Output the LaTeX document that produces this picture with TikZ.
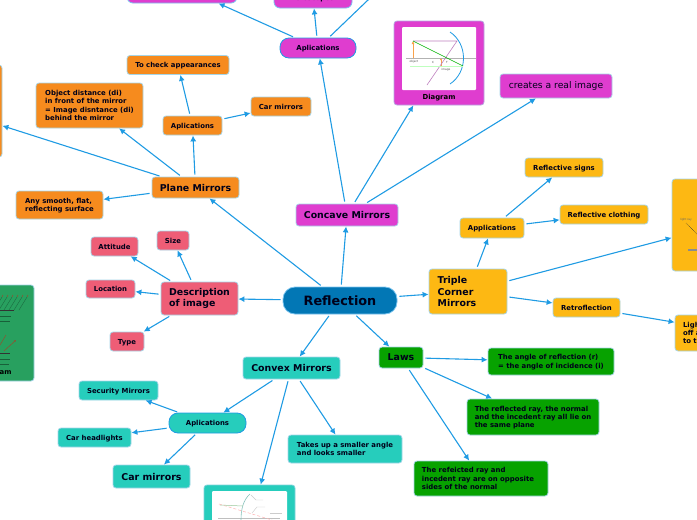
\documentclass[tikz,border=0pt]{standalone}
\usepackage{fontspec}
\setmainfont{DejaVu Sans}
\usetikzlibrary{arrows.meta}
\definecolor{linkblue}{HTML}{1F9BE3}
\definecolor{edgeblue}{HTML}{A5D5E8}
\definecolor{rootblue}{HTML}{0277B5}
\definecolor{concavecol}{HTML}{DF3DCF}
\definecolor{planecol}{HTML}{F68B1E}
\definecolor{descrcol}{HTML}{EE5D76}
\definecolor{triplecol}{HTML}{FDB813}
\definecolor{lawcol}{HTML}{07A200}
\definecolor{convexcol}{HTML}{26CDBC}
\definecolor{greendiag}{HTML}{28A05F}
\tikzset{
  box/.style={draw=edgeblue, line width=0.8pt, rounded corners=3pt, inner sep=0pt, align=left, text=black!90!blue},
  pill/.style={box, rounded corners=9pt, draw=linkblue},
  small/.style={font=\fontsize{6.9}{8.3}\selectfont\bfseries, text depth=0pt},
  big/.style={font=\fontsize{9.4}{11.4}\selectfont\bfseries},
  link/.style={draw=linkblue, line width=1.1pt, -{Latex[length=6pt,width=6pt]}, shorten <=2pt},
  sketch/.style={line width=0.5pt}
}
\begin{document}
\begin{tikzpicture}[x=1pt,y=-1pt]
  \useasboundingbox (0,0) rectangle (697,520);
  \clip (0,0) rectangle (697,520);

  % centre and main branches
  \node [box, rounded corners=12pt, draw=linkblue!60, fill=rootblue, minimum width=114pt, minimum height=27pt, text depth=0pt, font=\fontsize{12.8}{14}\selectfont\bfseries] (reflection) at (340,300.5) {Reflection};
  \node [box, big, fill=concavecol, minimum width=102pt, minimum height=22pt] (concave) at (347,215) {Concave Mirrors};
  \node [box, big, fill=planecol, minimum width=87pt, minimum height=21pt] (plane) at (195.5,187.5) {Plane Mirrors};
  \node [box, big, fill=descrcol, minimum width=77pt, minimum height=33pt] (descr) at (199.5,298.5) {Description\\of image};
  \node [box, big, fill=triplecol, minimum width=78pt, minimum height=45pt] (triple) at (468,291.5) {Triple\hspace{31pt}\mbox{}\\Corner\\Mirrors};
  \node [box, big, fill=lawcol, minimum width=44pt, minimum height=21pt] (laws) at (401,357.5) {Laws};
  \node [box, big, fill=convexcol, minimum width=97pt, minimum height=22pt] (convex) at (291.5,368) {Convex Mirrors};

  % concave
  \node [pill, small, fill=concavecol, minimum width=76pt, minimum height=20pt] (concaveapp) at (318,48) {Aplications};
  \node [box, fill=concavecol, draw=linkblue!60, rounded corners=6pt, minimum width=110pt, minimum height=32pt] (concavetop) at (182,-13) {};
  \node [box, small, fill=concavecol, draw=linkblue!60, rounded corners=6pt, minimum width=78pt, minimum height=20pt] (telescopes) at (313,-2) {Telescopes};
  \coordinate (concaveout) at (418,-48);
  \node [box, fill=concavecol, draw=edgeblue!70!concavecol, minimum width=90pt, minimum height=84pt] (concavediag) at (439,63) {};
  \node [fill=white, rounded corners=1pt, inner sep=0pt, minimum width=74pt, minimum height=63pt] (concavepic) at (439,58.5) {};
  \node [small, inner sep=0pt] (concavelabel) at (439,96.5) {Diagram};
  \node [box, fill=concavecol, minimum width=112pt, minimum height=24pt, font=\fontsize{9.2}{10}\selectfont] (realimage) at (556,86) {creates a real image};

  % sketch of the concave mirror
  \draw [sketch, black!30, line width=0.9pt] (406,58) -- (476,58);
  \draw [sketch, linkblue, line width=0.8pt] (450,32) .. controls (468,44) and (468,72) .. (450,84);
  \draw [sketch, planecol!80, line width=1pt, -{Latex[length=3pt,width=3pt]}] (413,58) -- (413,41);
  \draw [sketch, planecol!80, -{Latex[length=2pt,width=2pt]}] (441,66) -- (441,58);
  \draw [sketch, violet!50, line width=0.6pt] (413,41) -- (457,41) -- (427,85);
  \draw [sketch, green!70!black, line width=0.6pt] (413,41) -- (463,66);
  \draw [sketch, green!25, line width=1pt] (463,66) -- (410,66);
  \node [font=\fontsize{2.8}{3}\selectfont, black!70, inner sep=0pt] (objecttext) at (414,62) {object};
  \node [font=\fontsize{2.8}{3}\selectfont, black!70, inner sep=0pt] (ctext) at (433,62) {C};
  \node [font=\fontsize{2.8}{3}\selectfont, black!70, inner sep=0pt] (ftext) at (447,62) {F};
  \node [font=\fontsize{2.8}{3}\selectfont, black!70, inner sep=0pt] (imagetext) at (446,70) {image};

  % plane
  \node [box, fill=planecol, minimum width=92pt, minimum height=92pt] (planeleft) at (-44,111) {};
  \node [box, small, fill=planecol, minimum width=107pt, minimum height=45pt] (distance) at (89.5,105.5) {Object distance (di)\\in front of the mirror\\= Image disntance (di)\\behind the mirror};
  \node [box, small, fill=planecol, minimum width=59pt, minimum height=19pt] (planeapp) at (192.5,125.5) {Aplications};
  \node [box, small, fill=planecol, minimum width=102pt, minimum height=19pt] (appearance) at (178,65) {To check appearances};
  \node [box, small, fill=planecol, minimum width=60pt, minimum height=19pt] (planecar) at (281,106.5) {Car mirrors};
  \node [box, small, fill=planecol, minimum width=87pt, minimum height=28pt] (smooth) at (59.5,205) {Any smooth, flat,\\reflecting surface};

  % description
  \node [box, small, fill=descrcol, minimum width=47pt, minimum height=19pt] (attitude) at (114.5,246.5) {Attitude};
  \node [box, small, fill=descrcol, minimum width=32pt, minimum height=19pt] (size) at (173,240.5) {Size};
  \node [box, small, fill=descrcol, minimum width=49pt, minimum height=18pt] (location) at (110.5,289) {Location};
  \node [box, small, fill=descrcol, minimum width=34pt, minimum height=19pt] (type) at (127,341.5) {Type};
  \node [box, fill=greendiag, minimum width=80pt, minimum height=96pt] (greenbox) at (-6,333) {};
  \node [small, inner sep=0pt] (greenlabel) at (-5,372) {Diagram};

  % sketch of the two reflections
  \foreach \s in {0,5,...,25} {
    \draw [sketch, black!40!greendiag, line width=0.3pt] (\s-6,310) -- (\s+2,297);
    \draw [sketch, red!50!greendiag] (\s+2,297) -- (\s+3,295);
  }
  \draw [sketch, black!80, line width=0.7pt] (0,310) -- (14,310);
  \draw [sketch, black!40!greendiag, line width=0.4pt] (0,316) -- (11,316) (0,321) -- (10,321);
  \draw [sketch, black!80, line width=0.7pt] (0,353) -- (10,353);
  \draw [sketch, red!50!greendiag, -{Latex[length=2pt,width=2pt]}] (4,351) -- (16,340);
  \draw [sketch, red!50!greendiag] (0,345) -- (6,335);
  \draw [sketch, black!40!greendiag, line width=0.4pt] (0,359) -- (10,359) (0,364) -- (9,364);

  % triple
  \node [box, small, fill=triplecol, minimum width=64pt, minimum height=20pt] (tripleapp) at (492,228) {Applications};
  \node [box, small, fill=triplecol, minimum width=78pt, minimum height=19pt] (signs) at (564,167.5) {Reflective signs};
  \node [box, small, fill=triplecol, minimum width=88pt, minimum height=19pt] (clothing) at (604,214.5) {Reflective clothing};
  \node [box, small, fill=triplecol, minimum width=67pt, minimum height=19pt] (retro) at (586.5,307.5) {Retroflection};
  \node [box, fill=triplecol, minimum width=96pt, minimum height=92pt] (tripleright) at (720,225) {};
  \node [box, small, fill=triplecol, minimum width=128pt, minimum height=36pt] (light) at (739,333) {Light\hspace{92pt}\mbox{}\\off a\\to th};

  % sketch of the light ray
  \node [font=\fontsize{2.8}{3}\selectfont, black!60, inner sep=0pt] (raytext) at (686,220) {light ray};
  \draw [sketch, black!80, densely dotted, line width=0.6pt] (686,223) -- (697,234);
  \draw [sketch, black!45, line width=1.2pt] (688,250) -- (697,250);

  % laws
  \node [box, small, fill=lawcol, minimum width=126pt, minimum height=27pt] (lawangle) at (551,361.5) {The angle of reflection (r)\\= the angle of incidence (i)};
  \node [box, small, fill=lawcol, minimum width=132pt, minimum height=36pt] (lawplane) at (533,417) {The reflected ray, the normal\\and the incedent ray all lie on\\the same plane};
  \node [box, small, fill=lawcol, minimum width=134pt, minimum height=35pt] (lawsides) at (481,478.5) {The refeicted ray and\\incedent ray are on opposite\hspace{6pt}\mbox{}\\sides of the normal};

  % convex
  \node [pill, small, fill=convexcol, minimum width=77pt, minimum height=20pt] (convexapp) at (207.5,423) {Aplications};
  \node [box, small, fill=convexcol, minimum width=79pt, minimum height=19pt] (security) at (118.5,390.5) {Security Mirrors};
  \node [box, small, fill=convexcol, minimum width=73pt, minimum height=19pt] (headlights) at (94.5,437.5) {Car headlights};
  \node [box, big, fill=convexcol, minimum width=77pt, minimum height=23pt] (convexcar) at (151.5,476.5) {Car mirrors};
  \node [box, small, fill=convexcol, minimum width=114pt, minimum height=28pt] (angle) at (345,449) {Takes up a smaller angle\\and looks smaller};
  \node [box, fill=convexcol, draw=edgeblue!70!convexcol, minimum width=91pt, minimum height=84pt] (convexdiag) at (249.5,527) {};
  \node [fill=white, rounded corners=1pt, inner sep=0pt, minimum width=75pt, minimum height=63pt] (convexpic) at (249.5,522.5) {};

  % sketch of the convex mirror
  \draw [sketch, black!25, line width=0.9pt] (218,518) -- (280,518);
  \draw [sketch, convexcol!50!gray!70, line width=0.6pt] (250,494) .. controls (243,500) and (241,510) .. (241,520);
  \draw [sketch, red!30, densely dashed] (219,504) -- (272,520);
  \draw [sketch, green!30!gray!60] (220,505) -- (243,506);
  \draw [sketch, black!20, line width=0.4pt] (251,495) -- (256,500) -- (263,500);
  \draw [sketch, black!20, line width=0.4pt] (252,513) -- (257,507) -- (265,507);
  \draw [sketch, black!20, line width=0.4pt] (270,513) -- (282,513);

  % connectors
  \draw [link] (reflection) -- (concave);
  \draw [link] (reflection) -- (plane);
  \draw [link] (reflection) -- (descr);
  \draw [link] (reflection) -- (triple);
  \draw [link] (reflection) -- (laws);
  \draw [link] (reflection) -- (convex);

  \draw [link] (concave) -- (concaveapp);
  \draw [link] (concave) -- (concavediag);
  \draw [link] (concave) -- (realimage);
  \draw [link] (concaveapp) -- (concavetop);
  \draw [link] (concaveapp) -- (telescopes);
  \draw [link] (concaveapp) -- (concaveout);

  \draw [link] (plane) -- (planeleft);
  \draw [link] (plane) -- (distance);
  \draw [link] (plane) -- (planeapp);
  \draw [link] (plane) -- (smooth);
  \draw [link] (planeapp) -- (appearance);
  \draw [link] (planeapp) -- (planecar);

  \draw [link] (descr) -- (attitude);
  \draw [link] (descr) -- (size);
  \draw [link] (descr) -- (location);
  \draw [link] (descr) -- (type);

  \draw [link] (triple) -- (tripleapp);
  \draw [link] (triple) -- (tripleright);
  \draw [link] (triple) -- (retro);
  \draw [link] (tripleapp) -- (signs);
  \draw [link] (tripleapp) -- (clothing);
  \draw [link] (retro) -- (light);

  \draw [link] (laws) -- (lawangle);
  \draw [link] (laws) -- (lawplane);
  \draw [link] (laws) -- (lawsides);

  \draw [link] (convex) -- (convexapp);
  \draw [link] (convex) -- (convexdiag);
  \draw [link] (convex) -- (angle);
  \draw [link] (convexapp) -- (security);
  \draw [link] (convexapp) -- (headlights);
  \draw [link] (convexapp) -- (convexcar);
\end{tikzpicture}
\end{document}
